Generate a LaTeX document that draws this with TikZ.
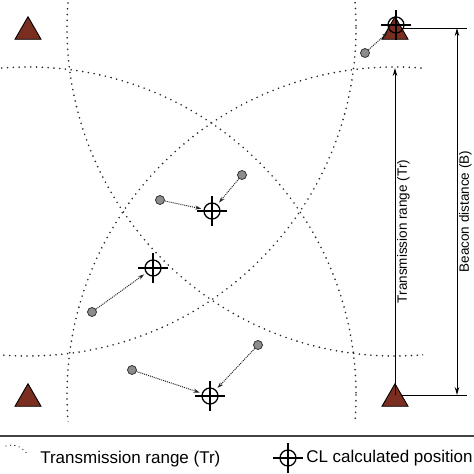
\documentclass[tikz,border=0pt]{standalone}
\usepackage{fontspec}
\setmainfont{Liberation Sans}
\usepackage{tikz}
\usetikzlibrary{arrows.meta,positioning,calc,shapes.geometric}
\tikzset{
  >=Stealth,
  every picture/.append style={line width=0.6pt},
}
\tikzset{
  beacon/.style={draw=black, fill=beaconbrown, regular polygon, regular polygon sides=3, minimum size=30pt, inner sep=0pt, line width=0.9pt, yshift=-3.75pt},
  unknown/.style={circle, draw=black!85, fill=nodegray, minimum size=9pt, inner sep=0pt, line width=0.7pt},
  clpos/.style={circle, draw=black, minimum size=16pt, inner sep=0pt, line width=1.3pt, outer sep=3pt},
  crossarm/.style={line width=1.3pt},
  estimate/.style={densely dotted, draw=black!85, line width=1pt, -{Stealth[length=6pt,width=4pt]}},
  txrange/.style={draw=black!85, line width=1.8pt, line cap=round, dash pattern=on 0pt off 5.8pt},
  dimline/.style={line width=1pt, draw=black},
  dimtip/.style={-{Stealth[length=8pt,width=4.5pt]}},
  dimboth/.style={{Stealth[length=8pt,width=4.5pt]}-{Stealth[length=8pt,width=4.5pt]}},
  dimlabel/.style={rotate=90, anchor=north, inner sep=1.5pt, font=\fontsize{13.5}{16}\selectfont},
  legend/.style={inner sep=0pt, font=\fontsize{17}{20}\selectfont}
}

\begin{document}
\begin{tikzpicture}[x=1pt, y=-1pt]
% Color definitions
\definecolor{beaconbrown}{RGB}{122,46,32}
\definecolor{nodegray}{RGB}{140,140,140}
\definecolor{rulegray}{RGB}{68,68,68}

\useasboundingbox (0,0) rectangle (474,474);

% Beacon positions
\coordinate (pTL) at (28,28);
\coordinate (pTR) at (395,28);
\coordinate (pBL) at (28,395);
\coordinate (pBR) at (395,395);

% Transmission ranges
\begin{scope}
  \clip (0,0) rectangle (423,421);
  \foreach \p in {pTL,pTR,pBL,pBR}
    \draw[txrange] (\p) circle[radius=328];
\end{scope}

% Extension lines of the beacon distance
\coordinate (bdTop) at (467,28);
\coordinate (bdBot) at (467,395);
\draw[dimline] (pTR) -- (bdTop);
\draw[dimline] (pBR) -- (bdBot);

% Beacons
\node[beacon] (bTL) at (pTL) {};
\node[beacon] (bTR) at (pTR) {};
\node[beacon] (bBL) at (pBL) {};
\node[beacon] (bBR) at (pBR) {};

% Transmission range and beacon distance
\coordinate (trTop) at ($(pBR)+(0,-327)$);
\draw[dimline, dimtip] (pBR) -- (trTop)
  node[dimlabel, midway] {Transmission range (Tr)};
\coordinate (bdA) at (457,28);
\coordinate (bdB) at (457,395);
\draw[dimline, dimboth] (bdA) -- (bdB)
  node[dimlabel, midway] {Beacon distance (B)};

% CL calculated positions
\node[clpos] (cTR) at (396,25) {};
\node[clpos] (cMid) at (212,211) {};
\node[clpos] (cLeft) at (153,268) {};
\node[clpos] (cLow) at (210,396) {};

% Unknown nodes
\node[unknown] (u1) at (365,53) {};
\node[unknown] (u2) at (160,200) {};
\node[unknown] (u3) at (242,175) {};
\node[unknown] (u4) at (92,312) {};
\node[unknown] (u5) at (132,370) {};
\node[unknown] (u6) at (258,345) {};

\draw[estimate] (u1) -- (cTR);
\draw[estimate] (u2) -- (cMid);
\draw[estimate] (u3) -- (cMid);
\draw[estimate] (u4) -- (cLeft);
\draw[estimate] (u5) -- (cLow);
\draw[estimate] (u6) -- (cLow);

% Legend
\draw[line width=2pt, rulegray] (0,436) -- (474,436);
\draw[txrange, line width=1.3pt, dash pattern=on 0pt off 4.5pt] (6,446) .. controls (16,443) and (23,448) .. (28,455);
\node[legend, anchor=west] (lgTr) at (40,459) {Transmission range (Tr)};
\node[clpos] (lgCross) at (288,458) {};
\node[legend, right=7pt of lgCross] (lgCL) {CL calculated position};

\foreach \c in {cTR,cMid,cLeft,cLow,lgCross}
  \draw[crossarm] ([xshift=-15pt]\c.center) -- ([xshift=15pt]\c.center)
    ([yshift=-15pt]\c.center) -- ([yshift=15pt]\c.center);
\end{tikzpicture}
\end{document}
